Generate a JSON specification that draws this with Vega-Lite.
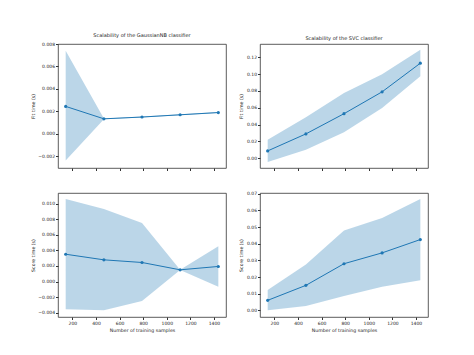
{
  "$schema": "https://vega.github.io/schema/vega-lite/v6.json",
  "background": "white",
  "padding": {"left": 29, "top": 32, "right": 5, "bottom": 5},
  "spacing": 18,
  "config": {
    "font": "DejaVu Sans",
    "view": {"stroke": "#333333", "strokeWidth": 0.8},
    "axis": {"grid": false, "domain": false, "labelFontSize": 4.5, "titleFontSize": 4.7, "titleFontWeight": "normal", "tickColor": "#333333", "tickSize": 2.5, "labelColor": "#222222", "titleColor": "#222222", "labelPadding": 1, "titlePadding": 2.5, "labelOverlap": false, "labelFlush": false},
    "title": {"fontSize": 5, "fontWeight": "normal", "offset": 3, "color": "#222222"}
  },
  "datasets": {
    "nb_fit": [
      {"n": 143, "mean": 0.00243, "lo": -0.0024, "hi": 0.0074},
      {"n": 467, "mean": 0.00132, "lo": 0.00128, "hi": 0.00136},
      {"n": 790, "mean": 0.00148, "lo": 0.00144, "hi": 0.00152},
      {"n": 1113, "mean": 0.00168, "lo": 0.00164, "hi": 0.00172},
      {"n": 1437, "mean": 0.00188, "lo": 0.00184, "hi": 0.00192}
    ],
    "svc_fit": [
      {"n": 143, "mean": 0.0088, "lo": -0.0044, "hi": 0.0222},
      {"n": 467, "mean": 0.029, "lo": 0.0103, "hi": 0.0487},
      {"n": 790, "mean": 0.053, "lo": 0.0309, "hi": 0.0776},
      {"n": 1113, "mean": 0.079, "lo": 0.0598, "hi": 0.100},
      {"n": 1437, "mean": 0.113, "lo": 0.0974, "hi": 0.129}
    ],
    "nb_score": [
      {"n": 143, "mean": 0.0035, "lo": -0.00357, "hi": 0.01058},
      {"n": 467, "mean": 0.00278, "lo": -0.0037, "hi": 0.0093},
      {"n": 790, "mean": 0.00244, "lo": -0.0025, "hi": 0.0075},
      {"n": 1113, "mean": 0.0015, "lo": 0.00148, "hi": 0.00152},
      {"n": 1437, "mean": 0.00193, "lo": -0.00067, "hi": 0.00453}
    ],
    "svc_score": [
      {"n": 143, "mean": 0.006, "lo": 0.0, "hi": 0.0122},
      {"n": 467, "mean": 0.015, "lo": 0.0026, "hi": 0.0275},
      {"n": 790, "mean": 0.028, "lo": 0.0086, "hi": 0.048},
      {"n": 1113, "mean": 0.0345, "lo": 0.0142, "hi": 0.0555},
      {"n": 1437, "mean": 0.0425, "lo": 0.018, "hi": 0.0669}
    ]
  },
  "vconcat": [
    {
      "spacing": 11,
      "hconcat": [
        {
          "data": {"name": "nb_fit"},
          "width": 168, "height": 124,
          "title": "Scalability of the GaussianNB classifier",
          "encoding": {
            "x": {"field": "n", "type": "quantitative", "scale": {"domain": [78, 1502], "nice": false}, "axis": {"values": [200, 400, 600, 800, 1000, 1200, 1400], "labels": false, "title": null, "labelOverlap": false}}
          },
          "layer": [
            {
              "mark": {"type": "area", "color": "#1f77b4", "opacity": 0.3},
              "encoding": {
                "y": {"field": "lo", "type": "quantitative", "scale": {"domain": [-0.00307, 0.008], "nice": false, "zero": false}, "axis": {"values": [-0.002, 0, 0.002, 0.004, 0.006, 0.008], "format": ".3f", "title": "Fit time (s)", "labelOverlap": false}},
                "y2": {"field": "hi"}
              }
            },
            {
              "mark": {"type": "line", "color": "#1f77b4", "strokeWidth": 1, "point": {"filled": true, "size": 10, "color": "#1f77b4"}},
              "encoding": {
                "y": {"field": "mean", "type": "quantitative", "axis": {"values": [-0.002, 0, 0.002, 0.004, 0.006, 0.008], "format": ".3f", "title": "Fit time (s)", "labelOverlap": false}}
              }
            }
          ]
        },
        {
          "data": {"name": "svc_fit"},
          "width": 168, "height": 124,
          "title": "Scalability of the SVC classifier",
          "encoding": {
            "x": {"field": "n", "type": "quantitative", "scale": {"domain": [78, 1502], "nice": false}, "axis": {"values": [200, 400, 600, 800, 1000, 1200, 1400], "labels": false, "title": null, "labelOverlap": false}}
          },
          "layer": [
            {
              "mark": {"type": "area", "color": "#1f77b4", "opacity": 0.3},
              "encoding": {
                "y": {"field": "lo", "type": "quantitative", "scale": {"domain": [-0.0115, 0.1358], "nice": false, "zero": false}, "axis": {"values": [0, 0.02, 0.04, 0.06, 0.08, 0.1, 0.12], "format": ".2f", "title": "Fit time (s)", "labelOverlap": false}},
                "y2": {"field": "hi"}
              }
            },
            {
              "mark": {"type": "line", "color": "#1f77b4", "strokeWidth": 1, "point": {"filled": true, "size": 10, "color": "#1f77b4"}},
              "encoding": {
                "y": {"field": "mean", "type": "quantitative", "axis": {"values": [0, 0.02, 0.04, 0.06, 0.08, 0.1, 0.12], "format": ".2f", "title": "Fit time (s)", "labelOverlap": false}}
              }
            }
          ]
        }
      ]
    },
    {
      "spacing": 11,
      "hconcat": [
        {
          "data": {"name": "nb_score"},
          "width": 168, "height": 124,
          "encoding": {
            "x": {"field": "n", "type": "quantitative", "scale": {"domain": [78, 1502], "nice": false}, "axis": {"values": [200, 400, 600, 800, 1000, 1200, 1400], "format": "d", "title": "Number of training samples", "labelOverlap": false}}
          },
          "layer": [
            {
              "mark": {"type": "area", "color": "#1f77b4", "opacity": 0.3},
              "encoding": {
                "y": {"field": "lo", "type": "quantitative", "scale": {"domain": [-0.00455, 0.01135], "nice": false, "zero": false}, "axis": {"values": [-0.004, -0.002, 0, 0.002, 0.004, 0.006, 0.008, 0.01], "format": ".3f", "title": "Score time (s)", "labelOverlap": false}},
                "y2": {"field": "hi"}
              }
            },
            {
              "mark": {"type": "line", "color": "#1f77b4", "strokeWidth": 1, "point": {"filled": true, "size": 10, "color": "#1f77b4"}},
              "encoding": {
                "y": {"field": "mean", "type": "quantitative", "axis": {"values": [-0.004, -0.002, 0, 0.002, 0.004, 0.006, 0.008, 0.01], "format": ".3f", "title": "Score time (s)", "labelOverlap": false}}
              }
            }
          ]
        },
        {
          "data": {"name": "svc_score"},
          "width": 168, "height": 124,
          "encoding": {
            "x": {"field": "n", "type": "quantitative", "scale": {"domain": [78, 1502], "nice": false}, "axis": {"values": [200, 400, 600, 800, 1000, 1200, 1400], "format": "d", "title": "Number of training samples", "labelOverlap": false}}
          },
          "layer": [
            {
              "mark": {"type": "area", "color": "#1f77b4", "opacity": 0.3},
              "encoding": {
                "y": {"field": "lo", "type": "quantitative", "scale": {"domain": [-0.004, 0.07046], "nice": false, "zero": false}, "axis": {"values": [0, 0.01, 0.02, 0.03, 0.04, 0.05, 0.06, 0.07], "format": ".2f", "title": "Score time (s)", "labelOverlap": false}},
                "y2": {"field": "hi"}
              }
            },
            {
              "mark": {"type": "line", "color": "#1f77b4", "strokeWidth": 1, "point": {"filled": true, "size": 10, "color": "#1f77b4"}},
              "encoding": {
                "y": {"field": "mean", "type": "quantitative", "axis": {"values": [0, 0.01, 0.02, 0.03, 0.04, 0.05, 0.06, 0.07], "format": ".2f", "title": "Score time (s)", "labelOverlap": false}}
              }
            }
          ]
        }
      ]
    }
  ]
}
